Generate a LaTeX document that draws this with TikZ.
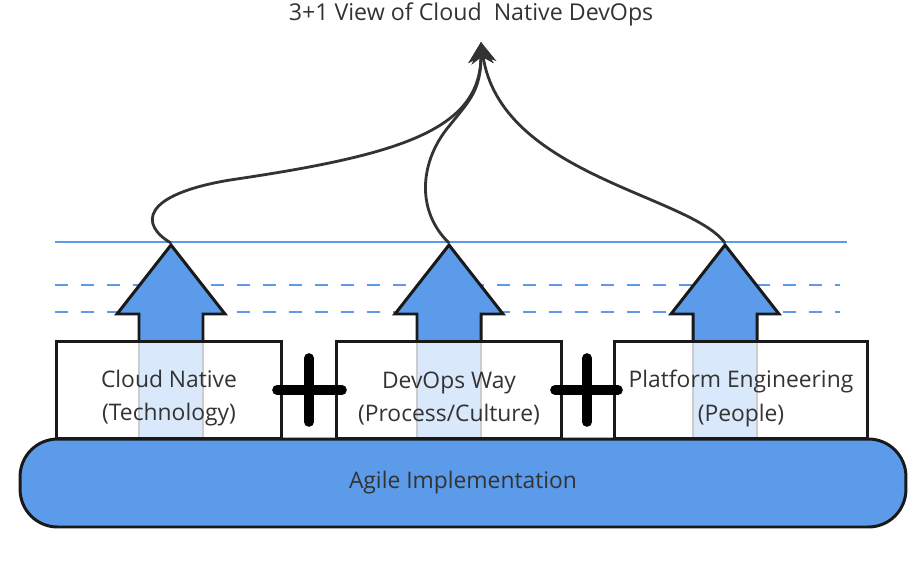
\documentclass[tikz,border=0pt]{standalone}
\usepackage{fontspec}
\setmainfont{Open Sans}
\usetikzlibrary{arrows.meta,positioning,calc}
\definecolor{agileblue}{HTML}{5B9BEA}
\definecolor{stripeblue}{HTML}{DAE8FC}
\definecolor{inkgray}{HTML}{333333}
\tikzset{
    layer/.style={draw=black!90, line width=1.7pt, minimum height=1.94cm},
    boxtext/.style={align=center, text=inkgray, font=\fontsize{13}{18.8}\selectfont},
    agile/.style={draw=black!90, line width=1.7pt, fill=agileblue, rounded corners=0.75cm, minimum width=17.72cm, minimum height=1.76cm, text=inkgray, font=\fontsize{13}{18.8}\selectfont},
    uparrow/.style={draw=black!90, fill=agileblue, line width=1.7pt},
    stripe/.style={fill=stripeblue, draw=black!20, line width=1.2pt},
    plus/.style={line width=5.5pt, line cap=round},
    level/.style={agileblue, line width=1.5pt},
    flow/.style={-{Stealth[length=0.42cm, width=0.5cm]}, inkgray, line width=1.6pt}
}

\begin{document}
\begin{tikzpicture}[x=0.02cm, y=-0.02cm]
    \useasboundingbox (0,0) rectangle (919,561);

    % levels
    \draw[level] (55,242) -- (847,242);
    \draw[level, dash pattern=on 0.26cm off 0.26cm] (55,285) -- (840,285);
    \draw[level, dash pattern=on 0.26cm off 0.26cm] (55,312) -- (840,312);

    % arrows and stripes
    \foreach \x/\n in {171/a, 449/b, 725/c} {
        \fill[stripe] (\x-32,341) rectangle (\x+32,438);
        \draw[uparrow] (\x-32,341) -- (\x-32,314) -- (\x-54,314) -- (\x,245) -- (\x+54,314) -- (\x+32,314) -- (\x+32,341);
        \coordinate (tip\n) at (\x,243);
    }

    \node[layer, minimum width=4.52cm] (cloud) at (169,389.5) {};
    \node[layer, minimum width=4.52cm] (devops) at (449,389.5) {};
    \node[layer, minimum width=5.08cm] (platform) at (741,389.5) {};
    \node[boxtext] (cloudtext) at ([yshift=-0.18cm]cloud.center) {Cloud Native\\(Technology)};
    \node[boxtext] (devopstext) at ([yshift=-0.18cm]devops.center) {DevOps Way\\(Process/Culture)};
    \node[boxtext] (platformtext) at ([yshift=-0.18cm]platform.center) {Platform Engineering\\(People)};

    \draw[plus] (277,390) -- (342,390);
    \draw[plus] (309,358) -- (309,422);
    \draw[plus] (555,390) -- (618,390);
    \draw[plus] (587,358) -- (587,422);

    \node[agile] (agile) at (463,483) {Agile Implementation};

    \node[text=inkgray, font=\fontsize{13.2}{18.8}\selectfont] (title) at (471,14) {3+1 View of Cloud\ \ Native DevOps};
    \coordinate (top) at (481,42);

    \draw[flow] (tipa) .. controls (140,225) and (140,195) .. (230,180) .. controls (400,155) and (481,130) .. (top);
    \draw[flow] (tipb) .. controls (415,210) and (420,160) .. (450,125) .. controls (470,100) and (481,90) .. (top);
    \draw[flow] (tipc) .. controls (690,195) and (500,175) .. (top);
\end{tikzpicture}
\end{document}
